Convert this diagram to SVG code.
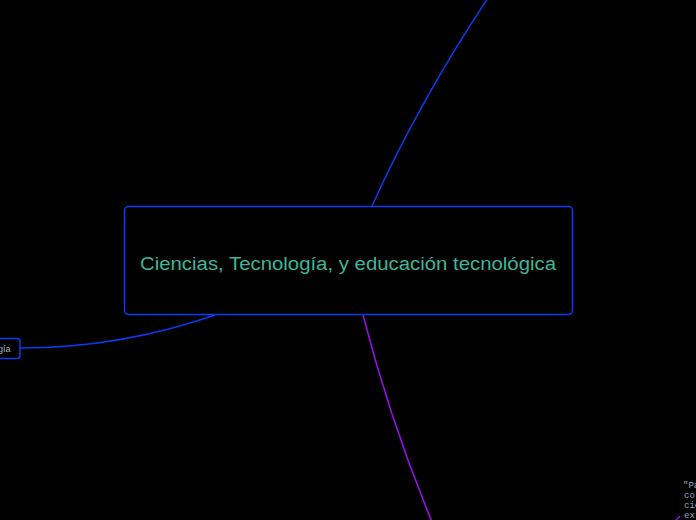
<svg xmlns="http://www.w3.org/2000/svg" width="696" height="520" viewBox="0 0 696 520">
<style>
.node{fill:#000;stroke:#0a3cf0;stroke-width:1.5}
.conn{fill:none;stroke-width:1.5}
.blue{stroke:#0a3cf0}
.purple{stroke:#9a10e8}
.main{font-family:"Liberation Sans",Arial,sans-serif;font-size:18px;fill:#3fb597}
.small{font-family:"Liberation Sans",sans-serif;font-size:9px;fill:#a8b0c0}
.note{font-family:"Liberation Mono",monospace;font-size:9px;fill:#9aa4c0}
</style>
<rect width="696" height="520" fill="#000"/>
<g id="connectors">
<path class="conn blue" d="M372,206 Q420,100 488,-2"/>
<path class="conn purple" d="M363,315 Q390,420 432,522"/>
<path class="conn blue" d="M215,315 Q120,348 20,348"/>
<path class="conn purple" d="M676,520 L680,516"/>
</g>
<g id="main">
<rect class="node" x="124.5" y="206.5" width="448" height="108" rx="4"/>
<text class="main" x="140" y="270" textLength="416" lengthAdjust="spacingAndGlyphs">Ciencias, Tecnología, y educación tecnológica</text>
</g>
<g id="left">
<rect class="node" x="-20" y="338.5" width="40" height="20" rx="3"/>
<text class="small" x="-2" y="352">gía</text>
</g>
<g id="note">
<text class="note" x="683" y="488">"Pa</text>
<text class="note" x="684" y="498">co</text>
<text class="note" x="684" y="508">cie</text>
<text class="note" x="684" y="518">ex</text>
</g>
</svg>
